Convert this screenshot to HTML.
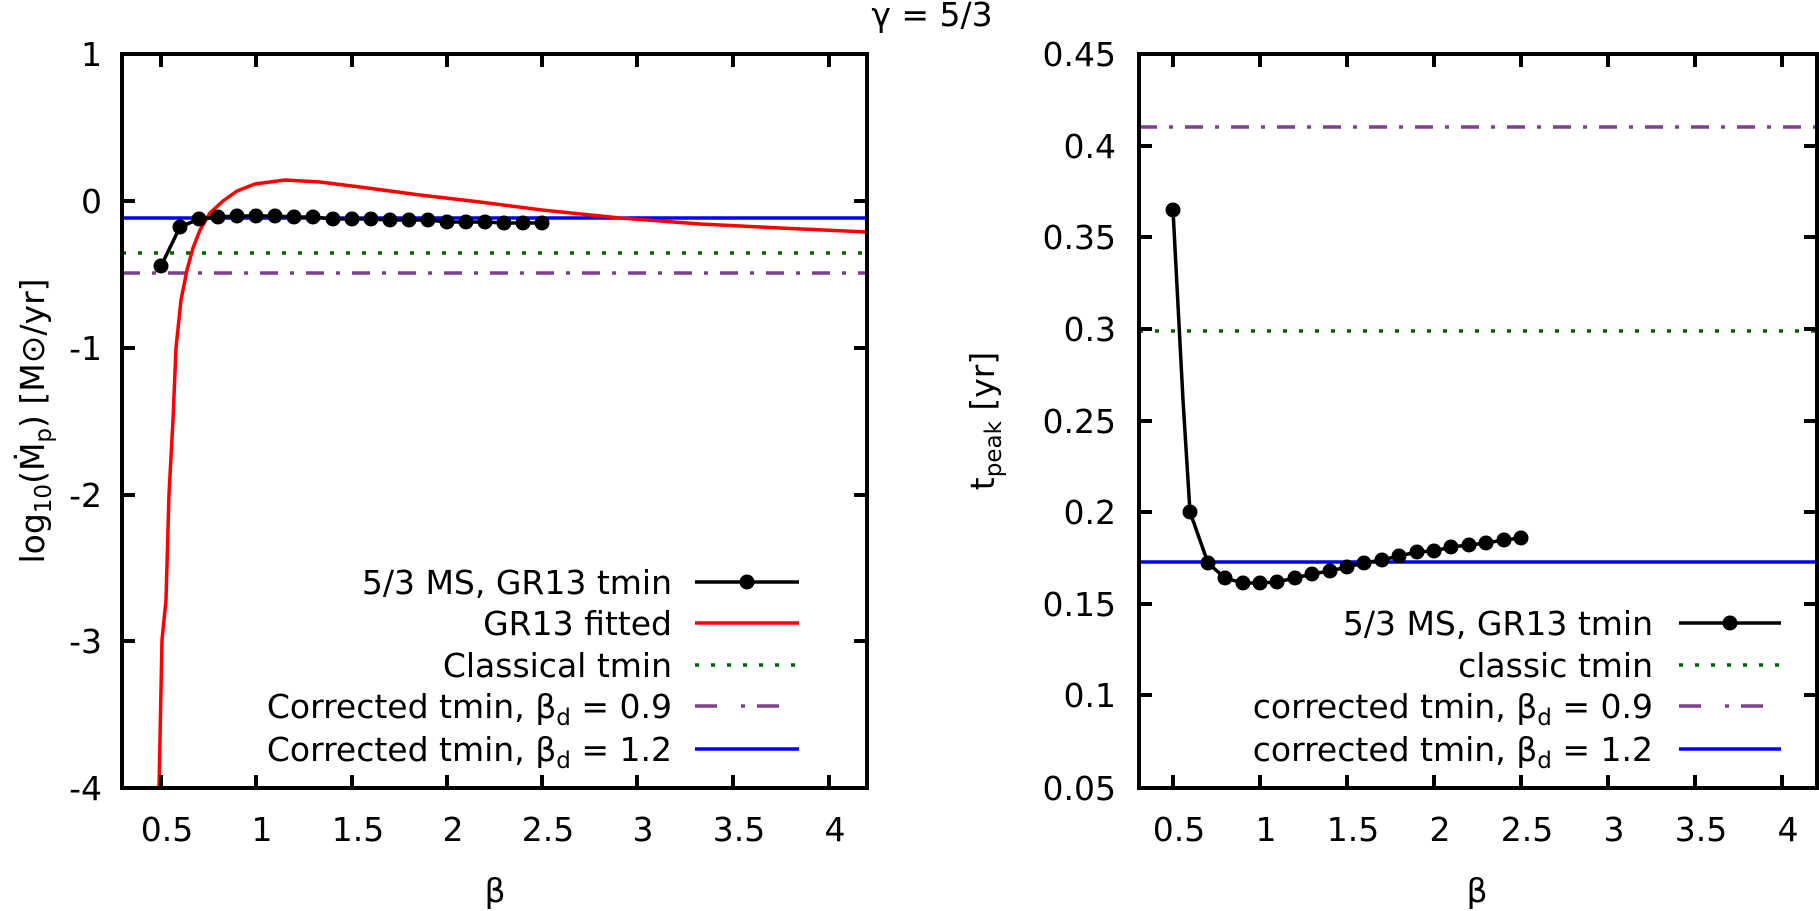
<!DOCTYPE html>
<html><head><meta charset="utf-8"><style>
html,body{margin:0;padding:0;background:#fff;}
svg{display:block;}
text{font-family:"DejaVu Sans","Liberation Sans",sans-serif;font-size:33px;fill:#000;}
</style></head><body>
<svg width="1819" height="911" viewBox="0 0 1819 911" xmlns="http://www.w3.org/2000/svg">
<text x="932" y="26" text-anchor="middle">γ = 5/3</text>

<!-- LEFT PLOT -->
<g fill="none" stroke-width="3.5">
<line x1="122" y1="218" x2="867" y2="218" stroke="#0000ff"/>
<line x1="122" y1="253" x2="867" y2="253" stroke="#006400" stroke-dasharray="4 12"/>
<line x1="122" y1="273" x2="867" y2="273" stroke="#7f3f8f" stroke-dasharray="18 12 4 12"/>
<polyline stroke="#ff0000" points="159,788 162,640 166,600 169,494 173,420 176,348 181,300 187,270 193,248 200,230 210,213 223,201 237,191 255,184 285,180 320,182 360,187 420,195 480,202 542,210 620,218 700,224 780,228 867,232"/>
<polyline stroke="#000" points="161,266 180,227 199,219 218,217 237,216 256,216 275,216 294,217 313,217 333,219 352,219 371,219 390,220 409,220 428,220 447,222 466,222 485,222 504,223 523,223 542,223"/>
</g>
<g fill="#000">
<circle cx="161" cy="266" r="7.5"/><circle cx="180" cy="227" r="7.5"/><circle cx="199" cy="219" r="7.5"/><circle cx="218" cy="217" r="7.5"/><circle cx="237" cy="216" r="7.5"/><circle cx="256" cy="216" r="7.5"/><circle cx="275" cy="216" r="7.5"/><circle cx="294" cy="217" r="7.5"/><circle cx="313" cy="217" r="7.5"/><circle cx="333" cy="219" r="7.5"/><circle cx="352" cy="219" r="7.5"/><circle cx="371" cy="219" r="7.5"/><circle cx="390" cy="220" r="7.5"/><circle cx="409" cy="220" r="7.5"/><circle cx="428" cy="220" r="7.5"/><circle cx="447" cy="222" r="7.5"/><circle cx="466" cy="222" r="7.5"/><circle cx="485" cy="222" r="7.5"/><circle cx="504" cy="223" r="7.5"/><circle cx="523" cy="223" r="7.5"/><circle cx="542" cy="223" r="7.5"/>
</g>
<rect x="122" y="54" width="745" height="734" fill="none" stroke="#000" stroke-width="4"/>
<g stroke="#000" stroke-width="4">
<line x1="161" y1="788" x2="161" y2="775"/><line x1="256" y1="788" x2="256" y2="775"/><line x1="352" y1="788" x2="352" y2="775"/><line x1="447" y1="788" x2="447" y2="775"/><line x1="542" y1="788" x2="542" y2="775"/><line x1="637" y1="788" x2="637" y2="775"/><line x1="733" y1="788" x2="733" y2="775"/><line x1="829" y1="788" x2="829" y2="775"/>
<line x1="161" y1="54" x2="161" y2="67"/><line x1="256" y1="54" x2="256" y2="67"/><line x1="352" y1="54" x2="352" y2="67"/><line x1="447" y1="54" x2="447" y2="67"/><line x1="542" y1="54" x2="542" y2="67"/><line x1="637" y1="54" x2="637" y2="67"/><line x1="733" y1="54" x2="733" y2="67"/><line x1="829" y1="54" x2="829" y2="67"/>
<line x1="122" y1="201" x2="135" y2="201"/><line x1="122" y1="348" x2="135" y2="348"/><line x1="122" y1="495" x2="135" y2="495"/><line x1="122" y1="641" x2="135" y2="641"/>
<line x1="867" y1="201" x2="854" y2="201"/><line x1="867" y1="348" x2="854" y2="348"/><line x1="867" y1="495" x2="854" y2="495"/><line x1="867" y1="641" x2="854" y2="641"/>
</g>
<g text-anchor="end">
<text x="102" y="66">1</text><text x="102" y="213">0</text><text x="102" y="360">-1</text><text x="102" y="507">-2</text><text x="102" y="653">-3</text><text x="102" y="800">-4</text>
</g>
<g text-anchor="middle">
<text x="167" y="841">0.5</text><text x="262" y="841">1</text><text x="358" y="841">1.5</text><text x="453" y="841">2</text><text x="548" y="841">2.5</text><text x="643" y="841">3</text><text x="739" y="841">3.5</text><text x="835" y="841">4</text>
<text x="495" y="902">β</text>
</g>
<text transform="translate(44,421) rotate(-90)" text-anchor="middle">log<tspan font-size="23" dy="7">10</tspan><tspan dy="-7">(Ṁ</tspan><tspan font-size="23" dy="7">p</tspan><tspan dy="-7">)  [M</tspan>⊙/yr]</text>
<!-- left legend -->
<g text-anchor="end">
<text x="672" y="594">5/3 MS, GR13 tmin</text>
<text x="672" y="635">GR13 fitted</text>
<text x="672" y="677">Classical tmin</text>
<text x="672" y="718">Corrected tmin, β<tspan font-size="23" dy="7">d</tspan><tspan dy="-7"> = 0.9</tspan></text>
<text x="672" y="761">Corrected tmin, β<tspan font-size="23" dy="7">d</tspan><tspan dy="-7"> = 1.2</tspan></text>
</g>
<g stroke-width="3.5" fill="none">
<line x1="695" y1="582" x2="799" y2="582" stroke="#000"/>
<line x1="695" y1="623" x2="799" y2="623" stroke="#ff0000"/>
<line x1="695" y1="665" x2="799" y2="665" stroke="#006400" stroke-dasharray="4 12"/>
<line x1="695" y1="706" x2="799" y2="706" stroke="#7f3f8f" stroke-dasharray="22 24 4 12 22 20"/>
<line x1="695" y1="749" x2="799" y2="749" stroke="#0000ff"/>
</g>
<circle cx="747" cy="582" r="7.5" fill="#000"/>

<!-- RIGHT PLOT -->
<g fill="none" stroke-width="3.5">
<line x1="1139" y1="562" x2="1817" y2="562" stroke="#0000ff"/>
<line x1="1139" y1="331" x2="1817" y2="331" stroke="#006400" stroke-dasharray="4 12"/>
<line x1="1139" y1="127" x2="1817" y2="127" stroke="#7f3f8f" stroke-dasharray="18 12 4 12"/>
<polyline stroke="#000" points="1173,210 1183,400 1190,512 1208,563 1225,578 1243,583 1260,583 1277,582 1295,578 1312,574 1330,571 1347,567 1364,563 1382,560 1399,556 1417,552 1434,551 1451,547 1469,545 1486,543 1504,540 1521,538"/>
</g>
<g fill="#000">
<circle cx="1173" cy="210" r="7.5"/><circle cx="1190" cy="512" r="7.5"/><circle cx="1208" cy="563" r="7.5"/><circle cx="1225" cy="578" r="7.5"/><circle cx="1243" cy="583" r="7.5"/><circle cx="1260" cy="583" r="7.5"/><circle cx="1277" cy="582" r="7.5"/><circle cx="1295" cy="578" r="7.5"/><circle cx="1312" cy="574" r="7.5"/><circle cx="1330" cy="571" r="7.5"/><circle cx="1347" cy="567" r="7.5"/><circle cx="1364" cy="563" r="7.5"/><circle cx="1382" cy="560" r="7.5"/><circle cx="1399" cy="556" r="7.5"/><circle cx="1417" cy="552" r="7.5"/><circle cx="1434" cy="551" r="7.5"/><circle cx="1451" cy="547" r="7.5"/><circle cx="1469" cy="545" r="7.5"/><circle cx="1486" cy="543" r="7.5"/><circle cx="1504" cy="540" r="7.5"/><circle cx="1521" cy="538" r="7.5"/>
</g>
<rect x="1139" y="54" width="678" height="734" fill="none" stroke="#000" stroke-width="4"/>
<g stroke="#000" stroke-width="4">
<line x1="1173" y1="788" x2="1173" y2="775"/><line x1="1260" y1="788" x2="1260" y2="775"/><line x1="1347" y1="788" x2="1347" y2="775"/><line x1="1434" y1="788" x2="1434" y2="775"/><line x1="1521" y1="788" x2="1521" y2="775"/><line x1="1608" y1="788" x2="1608" y2="775"/><line x1="1695" y1="788" x2="1695" y2="775"/><line x1="1782" y1="788" x2="1782" y2="775"/>
<line x1="1173" y1="54" x2="1173" y2="67"/><line x1="1260" y1="54" x2="1260" y2="67"/><line x1="1347" y1="54" x2="1347" y2="67"/><line x1="1434" y1="54" x2="1434" y2="67"/><line x1="1521" y1="54" x2="1521" y2="67"/><line x1="1608" y1="54" x2="1608" y2="67"/><line x1="1695" y1="54" x2="1695" y2="67"/><line x1="1782" y1="54" x2="1782" y2="67"/>
<line x1="1139" y1="695" x2="1152" y2="695"/><line x1="1139" y1="604" x2="1152" y2="604"/><line x1="1139" y1="512" x2="1152" y2="512"/><line x1="1139" y1="421" x2="1152" y2="421"/><line x1="1139" y1="329" x2="1152" y2="329"/><line x1="1139" y1="237" x2="1152" y2="237"/><line x1="1139" y1="146" x2="1152" y2="146"/>
<line x1="1817" y1="695" x2="1804" y2="695"/><line x1="1817" y1="604" x2="1804" y2="604"/><line x1="1817" y1="512" x2="1804" y2="512"/><line x1="1817" y1="421" x2="1804" y2="421"/><line x1="1817" y1="329" x2="1804" y2="329"/><line x1="1817" y1="237" x2="1804" y2="237"/><line x1="1817" y1="146" x2="1804" y2="146"/>
</g>
<g text-anchor="end">
<text x="1116" y="66">0.45</text><text x="1116" y="158">0.4</text><text x="1116" y="249">0.35</text><text x="1116" y="341">0.3</text><text x="1116" y="433">0.25</text><text x="1116" y="524">0.2</text><text x="1116" y="616">0.15</text><text x="1116" y="707">0.1</text><text x="1116" y="800">0.05</text>
</g>
<g text-anchor="middle">
<text x="1179" y="841">0.5</text><text x="1266" y="841">1</text><text x="1353" y="841">1.5</text><text x="1440" y="841">2</text><text x="1527" y="841">2.5</text><text x="1614" y="841">3</text><text x="1701" y="841">3.5</text><text x="1788" y="841">4</text>
<text x="1477" y="902">β</text>
</g>
<text transform="translate(994,421) rotate(-90)" text-anchor="middle">t<tspan font-size="23" dy="7">peak</tspan><tspan dy="-7"> [yr]</tspan></text>
<!-- right legend -->
<g text-anchor="end">
<text x="1653" y="635">5/3 MS, GR13 tmin</text>
<text x="1653" y="677">classic tmin</text>
<text x="1653" y="718">corrected tmin, β<tspan font-size="23" dy="7">d</tspan><tspan dy="-7"> = 0.9</tspan></text>
<text x="1653" y="761">corrected tmin, β<tspan font-size="23" dy="7">d</tspan><tspan dy="-7"> = 1.2</tspan></text>
</g>
<g stroke-width="3.5" fill="none">
<line x1="1679" y1="623" x2="1781" y2="623" stroke="#000"/>
<line x1="1679" y1="665" x2="1781" y2="665" stroke="#006400" stroke-dasharray="4 12"/>
<line x1="1679" y1="706" x2="1781" y2="706" stroke="#7f3f8f" stroke-dasharray="22 24 4 12 22 20"/>
<line x1="1679" y1="749" x2="1781" y2="749" stroke="#0000ff"/>
</g>
<circle cx="1730" cy="623" r="7.5" fill="#000"/>
</svg>
</body></html>
